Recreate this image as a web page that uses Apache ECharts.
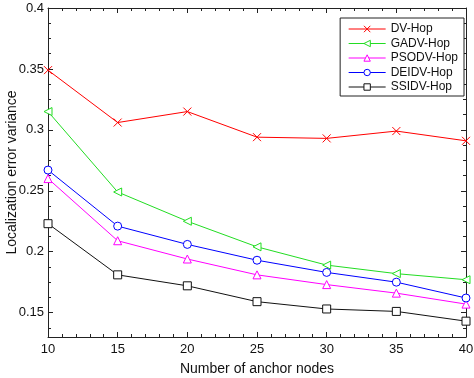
<!DOCTYPE html>
<html>
<head>
<meta charset="utf-8">
<script src="https://cdn.jsdelivr.net/npm/echarts@6/dist/echarts.min.js"></script>
<style>html,body{margin:0;padding:0;background:#fff}#c{width:474px;height:378px}</style>
</head>
<body>
<div id="c"></div>
<script>
var anchors = [10, 15, 20, 25, 30, 35, 40];
var dvHop   = [0.349, 0.306, 0.315, 0.294, 0.293, 0.299, 0.291];
var gadvHop = [0.315, 0.249, 0.225, 0.204, 0.189, 0.182, 0.177];
var psodvHop= [0.260, 0.209, 0.194, 0.181, 0.173, 0.166, 0.157];
var deidvHop= [0.267, 0.221, 0.206, 0.193, 0.183, 0.175, 0.162];
var ssidvHop= [0.223, 0.181, 0.172, 0.159, 0.153, 0.151, 0.143];
var yTicks = [0.15, 0.2, 0.25, 0.3, 0.35, 0.4];
var yMin = 0.13, yMax = 0.4;

var yMinor = [];
for (var k = -1; k < (yTicks.length - 1) * 4; k++) {
  if (k % 4 === 0) continue;
  var v = +(yTicks[0] + k * 0.0125).toFixed(4);
  if (v >= yMin && v <= yMax) yMinor.push(v);
}
function pairs(arr){ return anchors.map(function(a,i){return [a, arr[i]];}); }

var font = 'Liberation Sans, Arial, sans-serif';
var chart = echarts.init(document.getElementById('c'));
function yAx(pos, custom, len, showLine, showLabel, name) {
  return {
    type: 'value', position: pos, min: yMin, max: yMax,
    axisLine: {show: showLine, lineStyle: {color: '#222', width: 1}},
    axisTick: {show: true, inside: true, length: len, customValues: custom, lineStyle: {color: '#222'}},
    axisLabel: {show: showLabel, customValues: yTicks, color: '#111', fontSize: 13, fontFamily: font, margin: 4,
      formatter: function(v){ return String(+v.toFixed(2)); }},
    splitLine: {show: false},
    name: name || '', nameLocation: 'middle', nameGap: 29, nameMoveOverlap: false,
    nameTextStyle: {fontSize: 14, color: '#111', fontFamily: font}
  };
}
function xAx(pos, showLabel, name) {
  return {
    type: 'value', position: pos, min: 10, max: 40, interval: 5,
    axisLine: {show: true, lineStyle: {color: '#222', width: 1}},
    axisTick: {show: true, inside: true, length: 5, lineStyle: {color: '#222'}},
    minorTick: {show: true, splitNumber: 5, length: 3, lineStyle: {color: '#222'}},
    axisLabel: {show: showLabel, color: '#111', fontSize: 13, fontFamily: font, margin: 6},
    splitLine: {show: false}, minorSplitLine: {show: false},
    name: name || '', nameLocation: 'middle', nameGap: 25, nameMoveOverlap: false,
    nameTextStyle: {fontSize: 14, color: '#111', fontFamily: font}
  };
}
function ser(name, data, color, symbol, rot) {
  return {
    name: name, type: 'line', xAxisIndex: 0, yAxisIndex: 0, data: pairs(data),
    symbol: symbol, symbolSize: 8, symbolRotate: rot || 0,
    lineStyle: {color: color, width: 1},
    itemStyle: {color: '#fff', borderColor: color, borderWidth: 1},
    emphasis: {disabled: true}
  };
}
chart.setOption({
  animation: false,
  backgroundColor: '#fff',
  grid: {left: 48, right: 8, top: 8, bottom: 41, containLabel: false, outerBoundsMode: 'none'},
  xAxis: [xAx('bottom', true, 'Number of anchor nodes'), xAx('top', false)],
  yAxis: [
    yAx('left', yTicks, 5, true, true, 'Localization error variance'),
    yAx('left', yMinor, 3, false, false),
    yAx('right', yTicks, 5, true, false),
    yAx('right', yMinor, 3, false, false)
  ],
  legend: {
    orient: 'vertical', right: 10, top: 18,
    backgroundColor: '#fff', borderColor: '#222', borderWidth: 1, borderRadius: 0,
    padding: [5, 6, 3, 8], itemGap: 2.5, itemWidth: 37, itemHeight: 8,
    itemStyle: {borderWidth: 1}, lineStyle: {width: 1},
    textStyle: {fontSize: 12, color: '#111', fontFamily: font}
  },
  series: [
    ser('DV-Hop', dvHop, '#ff0000', 'path://M0,0L10,10M10,0L0,10'),
    ser('GADV-Hop', gadvHop, '#22dd22', 'triangle', 90),
    ser('PSODV-Hop', psodvHop, '#ff00ff', 'triangle'),
    ser('DEIDV-Hop', deidvHop, '#0000ff', 'circle'),
    ser('SSIDV-Hop', ssidvHop, '#111111', 'rect')
  ]
});
</script>
</body>
</html>
